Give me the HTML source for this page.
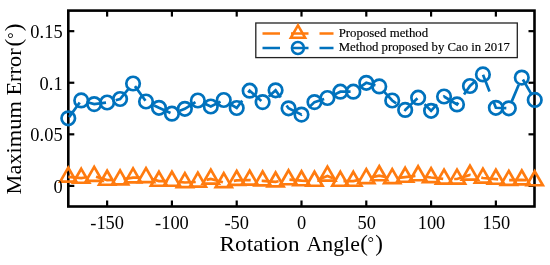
<!DOCTYPE html>
<html><head><meta charset="utf-8"><style>
html,body{margin:0;padding:0;background:#fff;width:550px;height:265px;overflow:hidden}
svg{display:block;will-change:transform}
text{font-family:"Liberation Serif",serif;fill:#000}
</style></head><body>
<svg width="550" height="265" viewBox="0 0 550 265">
<rect width="550" height="265" fill="#fff"/>
<g stroke="#000" stroke-width="2.6" fill="none" stroke-linecap="butt">
<rect x="68.3" y="10.6" width="466.20" height="195.90"/>
<g stroke-width="2.2"><line x1="68.3" y1="185.90" x2="74.3" y2="185.90"/><line x1="534.5" y1="185.90" x2="528.5" y2="185.90"/><line x1="68.3" y1="134.32" x2="74.3" y2="134.32"/><line x1="534.5" y1="134.32" x2="528.5" y2="134.32"/><line x1="68.3" y1="82.74" x2="74.3" y2="82.74"/><line x1="534.5" y1="82.74" x2="528.5" y2="82.74"/><line x1="68.3" y1="31.16" x2="74.3" y2="31.16"/><line x1="534.5" y1="31.16" x2="528.5" y2="31.16"/><line x1="107.13" y1="206.5" x2="107.13" y2="200.5"/><line x1="107.13" y1="10.6" x2="107.13" y2="16.6"/><line x1="171.92" y1="206.5" x2="171.92" y2="200.5"/><line x1="171.92" y1="10.6" x2="171.92" y2="16.6"/><line x1="236.71" y1="206.5" x2="236.71" y2="200.5"/><line x1="236.71" y1="10.6" x2="236.71" y2="16.6"/><line x1="301.50" y1="206.5" x2="301.50" y2="200.5"/><line x1="301.50" y1="10.6" x2="301.50" y2="16.6"/><line x1="366.29" y1="206.5" x2="366.29" y2="200.5"/><line x1="366.29" y1="10.6" x2="366.29" y2="16.6"/><line x1="431.08" y1="206.5" x2="431.08" y2="200.5"/><line x1="431.08" y1="10.6" x2="431.08" y2="16.6"/><line x1="495.87" y1="206.5" x2="495.87" y2="200.5"/><line x1="495.87" y1="10.6" x2="495.87" y2="16.6"/></g>
</g>
<g fill="none" stroke="#FF7B0F" stroke-width="2.7" stroke-linejoin="miter">
<polyline points="68.26,176.90 81.22,178.10 94.18,176.20 107.13,180.10 120.09,179.70 133.05,177.70 146.01,177.40 158.97,181.10 171.92,181.10 184.88,182.50 197.84,181.90 210.80,178.90 223.76,182.50 236.71,180.30 249.67,180.00 262.63,180.80 275.59,181.80 288.55,179.60 301.50,180.60 314.46,181.10 327.42,176.00 340.38,181.10 353.34,181.10 366.29,178.50 379.25,175.60 392.21,178.50 405.17,177.10 418.13,175.60 431.08,177.50 444.04,179.00 457.00,179.00 469.96,175.00 482.92,178.00 495.87,179.10 508.83,180.20 521.79,179.80 534.75,180.60" stroke-dasharray="17 11"/>
<polygon points="68.26,167.60 76.31,181.55 60.21,181.55"/><polygon points="81.22,168.80 89.27,182.75 73.16,182.75"/><polygon points="94.18,166.90 102.23,180.85 86.12,180.85"/><polygon points="107.13,170.80 115.19,184.75 99.08,184.75"/><polygon points="120.09,170.40 128.15,184.35 112.04,184.35"/><polygon points="133.05,168.40 141.10,182.35 125.00,182.35"/><polygon points="146.01,168.10 154.06,182.05 137.95,182.05"/><polygon points="158.97,171.80 167.02,185.75 150.91,185.75"/><polygon points="171.92,171.80 179.98,185.75 163.87,185.75"/><polygon points="184.88,173.20 192.94,187.15 176.83,187.15"/><polygon points="197.84,172.60 205.89,186.55 189.79,186.55"/><polygon points="210.80,169.60 218.85,183.55 202.74,183.55"/><polygon points="223.76,173.20 231.81,187.15 215.70,187.15"/><polygon points="236.71,171.00 244.77,184.95 228.66,184.95"/><polygon points="249.67,170.70 257.73,184.65 241.62,184.65"/><polygon points="262.63,171.50 270.68,185.45 254.58,185.45"/><polygon points="275.59,172.50 283.64,186.45 267.53,186.45"/><polygon points="288.55,170.30 296.60,184.25 280.49,184.25"/><polygon points="301.50,171.30 309.56,185.25 293.45,185.25"/><polygon points="314.46,171.80 322.52,185.75 306.41,185.75"/><polygon points="327.42,166.70 335.47,180.65 319.37,180.65"/><polygon points="340.38,171.80 348.43,185.75 332.32,185.75"/><polygon points="353.34,171.80 361.39,185.75 345.28,185.75"/><polygon points="366.29,169.20 374.35,183.15 358.24,183.15"/><polygon points="379.25,166.30 387.31,180.25 371.20,180.25"/><polygon points="392.21,169.20 400.26,183.15 384.16,183.15"/><polygon points="405.17,167.80 413.22,181.75 397.11,181.75"/><polygon points="418.13,166.30 426.18,180.25 410.07,180.25"/><polygon points="431.08,168.20 439.14,182.15 423.03,182.15"/><polygon points="444.04,169.70 452.10,183.65 435.99,183.65"/><polygon points="457.00,169.70 465.05,183.65 448.95,183.65"/><polygon points="469.96,165.70 478.01,179.65 461.90,179.65"/><polygon points="482.92,168.70 490.97,182.65 474.86,182.65"/><polygon points="495.87,169.80 503.93,183.75 487.82,183.75"/><polygon points="508.83,170.90 516.89,184.85 500.78,184.85"/><polygon points="521.79,170.50 529.84,184.45 513.74,184.45"/><polygon points="534.75,171.30 542.80,185.25 526.69,185.25"/>
</g>
<g fill="none" stroke="#0072BD" stroke-width="2.7">
<polyline points="68.26,118.30 81.22,100.40 94.18,104.10 107.13,102.50 120.09,99.00 133.05,83.50 146.01,101.50 158.97,107.80 171.92,113.70 184.88,108.80 197.84,100.50 210.80,106.50 223.76,100.00 236.71,108.00 249.67,90.70 262.63,102.10 275.59,90.30 288.55,108.30 301.50,114.60 314.46,102.10 327.42,98.00 340.38,91.70 353.34,91.70 366.29,82.80 379.25,86.40 392.21,100.50 405.17,109.90 418.13,97.70 431.08,110.80 444.04,96.50 457.00,104.40 469.96,86.00 482.92,74.40 495.87,107.80 508.83,108.30 521.79,77.60 534.75,99.90" stroke-dasharray="18 10" stroke-dashoffset="26.5"/>
<circle cx="68.26" cy="118.30" r="6.75"/><circle cx="81.22" cy="100.40" r="6.75"/><circle cx="94.18" cy="104.10" r="6.75"/><circle cx="107.13" cy="102.50" r="6.75"/><circle cx="120.09" cy="99.00" r="6.75"/><circle cx="133.05" cy="83.50" r="6.75"/><circle cx="146.01" cy="101.50" r="6.75"/><circle cx="158.97" cy="107.80" r="6.75"/><circle cx="171.92" cy="113.70" r="6.75"/><circle cx="184.88" cy="108.80" r="6.75"/><circle cx="197.84" cy="100.50" r="6.75"/><circle cx="210.80" cy="106.50" r="6.75"/><circle cx="223.76" cy="100.00" r="6.75"/><circle cx="236.71" cy="108.00" r="6.75"/><circle cx="249.67" cy="90.70" r="6.75"/><circle cx="262.63" cy="102.10" r="6.75"/><circle cx="275.59" cy="90.30" r="6.75"/><circle cx="288.55" cy="108.30" r="6.75"/><circle cx="301.50" cy="114.60" r="6.75"/><circle cx="314.46" cy="102.10" r="6.75"/><circle cx="327.42" cy="98.00" r="6.75"/><circle cx="340.38" cy="91.70" r="6.75"/><circle cx="353.34" cy="91.70" r="6.75"/><circle cx="366.29" cy="82.80" r="6.75"/><circle cx="379.25" cy="86.40" r="6.75"/><circle cx="392.21" cy="100.50" r="6.75"/><circle cx="405.17" cy="109.90" r="6.75"/><circle cx="418.13" cy="97.70" r="6.75"/><circle cx="431.08" cy="110.80" r="6.75"/><circle cx="444.04" cy="96.50" r="6.75"/><circle cx="457.00" cy="104.40" r="6.75"/><circle cx="469.96" cy="86.00" r="6.75"/><circle cx="482.92" cy="74.40" r="6.75"/><circle cx="495.87" cy="107.80" r="6.75"/><circle cx="508.83" cy="108.30" r="6.75"/><circle cx="521.79" cy="77.60" r="6.75"/><circle cx="534.75" cy="99.90" r="6.75"/>
</g>

<g font-size="19.2px"><text transform="translate(62.6,192.80) scale(0.96,1)" text-anchor="end">0</text><text transform="translate(62.6,141.22) scale(0.96,1)" text-anchor="end">0.05</text><text transform="translate(62.6,89.64) scale(0.96,1)" text-anchor="end">0.1</text><text transform="translate(62.6,38.06) scale(0.96,1)" text-anchor="end">0.15</text><text transform="translate(107.13,228.6) scale(0.96,1)" text-anchor="middle">-150</text><text transform="translate(171.92,228.6) scale(0.96,1)" text-anchor="middle">-100</text><text transform="translate(236.71,228.6) scale(0.96,1)" text-anchor="middle">-50</text><text transform="translate(301.50,228.6) scale(0.96,1)" text-anchor="middle">0</text><text transform="translate(366.69,228.6) scale(0.96,1)" text-anchor="middle">50</text><text transform="translate(431.48,228.6) scale(0.96,1)" text-anchor="middle">100</text><text transform="translate(496.27,228.6) scale(0.96,1)" text-anchor="middle">150</text></g>
<g font-size="21px"><text x="219.6" y="250.9" textLength="80" lengthAdjust="spacingAndGlyphs">Rotation</text><text x="306.6" y="250.9" textLength="53.2" lengthAdjust="spacingAndGlyphs">Angle</text><text x="360.2" y="250.7" font-size="23px">(</text><text x="367.6" y="248.2" font-size="16px">°</text><text x="375.3" y="250.7" font-size="23px">)</text></g>
<g transform="translate(21.1,195) rotate(-90)"><text x="0.6" y="0" font-size="21px" textLength="146" lengthAdjust="spacingAndGlyphs">Maximum Error</text><text x="148.6" y="0" font-size="23px">(</text><text x="156.2" y="-2.5" font-size="16px">°</text><text x="163.8" y="0" font-size="23px">)</text></g>
<g>
<rect x="255.8" y="23.0" width="261.5" height="34.6" fill="#fff" stroke="#222" stroke-width="1.3"/>
<line x1="262.5" y1="33.5" x2="333.5" y2="33.5" stroke="#FF7B0F" stroke-width="2.5" stroke-dasharray="17.5 11"/>
<polygon points="298.00,25.30 305.19,37.75 290.81,37.75" fill="none" stroke="#FF7B0F" stroke-width="2.5"/>
<line x1="262.5" y1="48.1" x2="333.5" y2="48.1" stroke="#0072BD" stroke-width="2.5" stroke-dasharray="17.5 11"/>
<circle cx="297.9" cy="48.0" r="6.0" fill="none" stroke="#0072BD" stroke-width="2.5"/>
<text x="338.7" y="36.5" font-size="12.8px" stroke="#000" stroke-width="0.15" textLength="89.5" lengthAdjust="spacingAndGlyphs">Proposed method</text>
<text x="338.7" y="51" font-size="12.8px" stroke="#000" stroke-width="0.15" textLength="171.3" lengthAdjust="spacingAndGlyphs">Method proposed by Cao in 2017</text>
</g>
</svg>
</body></html>
